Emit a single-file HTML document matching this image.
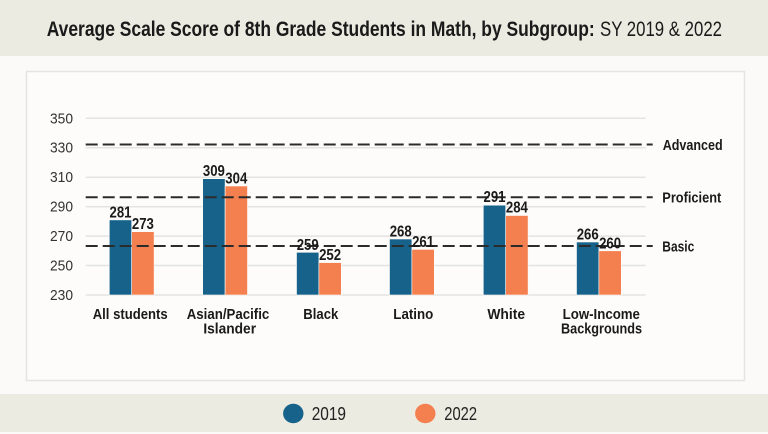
<!DOCTYPE html>
<html><head><meta charset="utf-8"><style>
html,body{margin:0;padding:0;background:#fbfaf8;}
svg{display:block;font-family:"Liberation Sans",sans-serif;}
</style></head><body>
<svg width="768" height="434" viewBox="0 0 768 434" xmlns="http://www.w3.org/2000/svg">
<rect x="0" y="0" width="768" height="434" fill="#fbfaf8"/>
<rect x="0" y="0" width="768" height="56" fill="#ebebe1"/>
<text x="46.7" y="36" font-size="21" font-weight="bold" fill="#1a1a1a" textLength="548" lengthAdjust="spacingAndGlyphs">Average Scale Score of 8th Grade Students in Math, by Subgroup:</text>
<text x="600" y="36" font-size="21" fill="#1a1a1a" textLength="122" lengthAdjust="spacingAndGlyphs">SY 2019 &amp; 2022</text>

<rect x="26.5" y="71.5" width="718" height="309" fill="#fdfcfb" stroke="#e4e4e2" stroke-width="1.5"/>

<g stroke="#e3e3e3" stroke-width="1.5">
<line x1="85.7" x2="645.7" y1="295" y2="295"/>
<line x1="85.7" x2="645.7" y1="265.5" y2="265.5"/>
<line x1="85.7" x2="645.7" y1="236.1" y2="236.1"/>
<line x1="85.7" x2="645.7" y1="206.7" y2="206.7"/>
<line x1="85.7" x2="645.7" y1="177.2" y2="177.2"/>
<line x1="85.7" x2="645.7" y1="147.7" y2="147.7"/>
<line x1="85.7" x2="645.7" y1="118.3" y2="118.3"/>
</g>
<g font-size="15" fill="#333" text-anchor="end">
<text x="73" y="300" textLength="23" lengthAdjust="spacingAndGlyphs">230</text>
<text x="73" y="270.5" textLength="23" lengthAdjust="spacingAndGlyphs">250</text>
<text x="73" y="241.1" textLength="23" lengthAdjust="spacingAndGlyphs">270</text>
<text x="73" y="211.7" textLength="23" lengthAdjust="spacingAndGlyphs">290</text>
<text x="73" y="182.2" textLength="23" lengthAdjust="spacingAndGlyphs">310</text>
<text x="73" y="152.7" textLength="23" lengthAdjust="spacingAndGlyphs">330</text>
<text x="73" y="123.3" textLength="23" lengthAdjust="spacingAndGlyphs">350</text>
</g>

<g stroke="#fdfcfb" stroke-width="0.6">
<rect x="109.3" y="219.9" width="22.4" height="75.1" fill="#17628a"/>
<rect x="131.7" y="231.7" width="22.4" height="63.3" fill="#f5804f"/>
<rect x="202.7" y="178.7" width="22.4" height="116.3" fill="#17628a"/>
<rect x="225.1" y="186.0" width="22.4" height="109.0" fill="#f5804f"/>
<rect x="296.5" y="252.3" width="22.4" height="42.7" fill="#17628a"/>
<rect x="318.9" y="262.6" width="22.4" height="32.4" fill="#f5804f"/>
<rect x="389.5" y="239.0" width="22.4" height="56.0" fill="#17628a"/>
<rect x="411.9" y="249.4" width="22.4" height="45.6" fill="#f5804f"/>
<rect x="483.3" y="205.2" width="22.4" height="89.8" fill="#17628a"/>
<rect x="505.7" y="215.5" width="22.4" height="79.5" fill="#f5804f"/>
<rect x="576.5" y="242.0" width="22.4" height="53.0" fill="#17628a"/>
<rect x="598.9" y="250.8" width="22.4" height="44.2" fill="#f5804f"/>
</g>

<g stroke="#2b2b2b" stroke-width="2" stroke-dasharray="12 5">
<line x1="85.7" x2="652.7" y1="144.5" y2="144.5"/>
<line x1="85.7" x2="652.7" y1="197.3" y2="197.3"/>
<line x1="85.7" x2="652.7" y1="246" y2="246"/>
</g>

<g font-size="16" font-weight="bold" fill="#1a1a1a" text-anchor="middle">
<text x="120.5" y="217.4" textLength="22" lengthAdjust="spacingAndGlyphs">281</text>
<text x="142.9" y="229.2" textLength="22" lengthAdjust="spacingAndGlyphs">273</text>
<text x="213.9" y="176.2" textLength="22" lengthAdjust="spacingAndGlyphs">309</text>
<text x="236.3" y="183.5" textLength="22" lengthAdjust="spacingAndGlyphs">304</text>
<text x="307.7" y="249.8" textLength="22" lengthAdjust="spacingAndGlyphs">259</text>
<text x="330.1" y="260.1" textLength="22" lengthAdjust="spacingAndGlyphs">252</text>
<text x="400.7" y="236.5" textLength="22" lengthAdjust="spacingAndGlyphs">268</text>
<text x="423.1" y="246.9" textLength="22" lengthAdjust="spacingAndGlyphs">261</text>
<text x="494.5" y="202.2" textLength="22" lengthAdjust="spacingAndGlyphs">291</text>
<text x="516.9" y="212.5" textLength="22" lengthAdjust="spacingAndGlyphs">284</text>
<text x="587.7" y="239.5" textLength="22" lengthAdjust="spacingAndGlyphs">266</text>
<text x="610.1" y="248.3" textLength="22" lengthAdjust="spacingAndGlyphs">260</text>
</g>

<g font-size="15" font-weight="bold" fill="#1a1a1a" text-anchor="middle">
<text x="130.2" y="319" textLength="75" lengthAdjust="spacingAndGlyphs">All students</text>
<text x="228" y="319" textLength="82.6" lengthAdjust="spacingAndGlyphs">Asian/Pacific</text>
<text x="229.7" y="333.5" textLength="52.7" lengthAdjust="spacingAndGlyphs">Islander</text>
<text x="320.8" y="319" textLength="35" lengthAdjust="spacingAndGlyphs">Black</text>
<text x="413.3" y="319" textLength="40" lengthAdjust="spacingAndGlyphs">Latino</text>
<text x="506.2" y="319" textLength="37.7" lengthAdjust="spacingAndGlyphs">White</text>
<text x="601.3" y="319" textLength="77.3" lengthAdjust="spacingAndGlyphs">Low-Income</text>
<text x="601.5" y="333.5" textLength="81" lengthAdjust="spacingAndGlyphs">Backgrounds</text>
</g>

<g font-size="15" font-weight="bold" fill="#1a1a1a">
<text x="662.7" y="149.8" textLength="60" lengthAdjust="spacingAndGlyphs">Advanced</text>
<text x="662.3" y="202.5" textLength="59" lengthAdjust="spacingAndGlyphs">Proficient</text>
<text x="662.3" y="251.3" textLength="32" lengthAdjust="spacingAndGlyphs">Basic</text>
</g>

<rect x="0" y="394" width="768" height="38" fill="#ebebe1"/>
<ellipse cx="293.3" cy="413.5" rx="10.2" ry="9.8" fill="#17628a"/>
<text x="311.7" y="420" font-size="18.5" fill="#222" textLength="34.3" lengthAdjust="spacingAndGlyphs">2019</text>
<ellipse cx="425.3" cy="413.5" rx="10.2" ry="9.8" fill="#f5804f"/>
<text x="444.3" y="420" font-size="18.5" fill="#222" textLength="32.7" lengthAdjust="spacingAndGlyphs">2022</text>
</svg>
</body></html>
